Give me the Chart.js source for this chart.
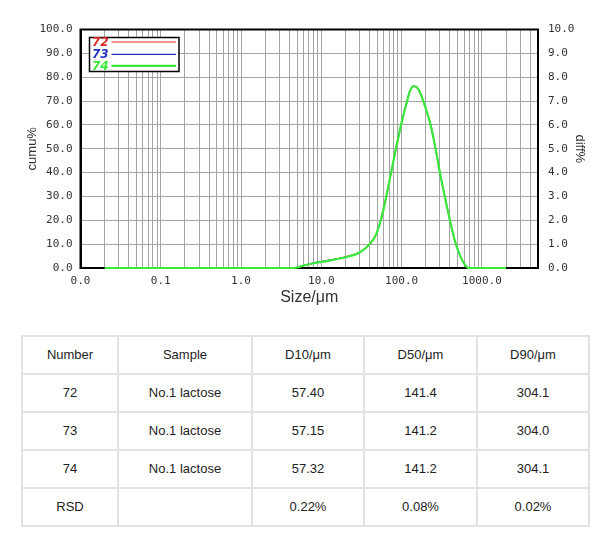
<!DOCTYPE html>
<html>
<head>
<meta charset="utf-8">
<script src="https://cdn.jsdelivr.net/npm/chart.js@4.4.1/dist/chart.umd.min.js"></script>
<style>
html,body{margin:0;padding:0;background:#fff;width:614px;height:544px;overflow:hidden;}
#wrap{position:absolute;left:0;top:0;width:614px;height:310px;}
#tbl{position:absolute;left:21px;top:334.5px;border-collapse:collapse;table-layout:fixed;
  font-family:"Liberation Sans",Arial,sans-serif;font-size:13px;color:#222;}
#tbl td{border:2px solid #e2e2e2;text-align:center;vertical-align:middle;padding:0;height:36px;}
</style>
</head>
<body>
<div id="wrap"><canvas id="c" width="614" height="310"></canvas></div>
<table id="tbl">
  <colgroup><col style="width:96px"><col style="width:134px"><col style="width:112px"><col style="width:113px"><col style="width:112px"></colgroup>
  <tbody id="tb"></tbody>
</table>
<script>
// ---- data ----
const sizes  = [0.02, 1, 4.5, 6, 8, 12, 20, 30, 40, 48, 58, 70, 85, 100, 115, 128, 142, 155, 170, 195, 230, 265, 300, 345, 400, 460, 530, 610, 680, 2000];
const diff72 = [0, 0, 0, 0.1, 0.2, 0.31, 0.47, 0.66, 1.0, 1.4, 2.3, 3.6, 5.0, 6.1, 6.9, 7.46, 7.63, 7.58, 7.35, 6.8, 6.0, 5.0, 4.0, 3.0, 2.0, 1.15, 0.55, 0.15, 0, 0];
const diff73 = [0, 0, 0, 0.11, 0.22, 0.32, 0.46, 0.64, 1.0, 1.4, 2.3, 3.6, 5.0, 6.1, 6.9, 7.45, 7.62, 7.57, 7.35, 6.8, 6.0, 5.0, 4.0, 3.0, 2.0, 1.15, 0.55, 0.15, 0, 0];
const diff74 = [0, 0, 0, 0.1, 0.2, 0.3, 0.45, 0.65, 1.0, 1.4, 2.3, 3.6, 5.0, 6.1, 6.9, 7.45, 7.62, 7.58, 7.35, 6.8, 6.0, 5.0, 4.0, 3.0, 2.0, 1.15, 0.55, 0.15, 0, 0];
const seriesLabels = ['72', '73', '74'];
const leftTicks = [0, 10, 20, 30, 40, 50, 60, 70, 80, 90, 100];
const rightTicks = [0, 1, 2, 3, 4, 5, 6, 7, 8, 9, 10];

const tblHeader = ['Number', 'Sample', 'D10/μm', 'D50/μm', 'D90/μm'];
const tblNumber = ['72', '73', '74', 'RSD'];
const tblSample = ['No.1 lactose', 'No.1 lactose', 'No.1 lactose', ''];
const tblD10 = ['57.40', '57.15', '57.32', '0.22%'];
const tblD50 = ['141.4', '141.2', '141.2', '0.08%'];
const tblD90 = ['304.1', '304.0', '304.1', '0.02%'];

// ---- table ----
(function(){
  const tb = document.getElementById('tb');
  const rows = [tblHeader];
  for (let i = 0; i < tblNumber.length; i++) rows.push([tblNumber[i], tblSample[i], tblD10[i], tblD50[i], tblD90[i]]);
  rows.forEach(r => {
    const tr = document.createElement('tr');
    r.forEach(c => { const td = document.createElement('td'); td.textContent = c; tr.appendChild(td); });
    tb.appendChild(tr);
  });
})();

// ---- chart ----
const colors = ['#e02828', '#2430c0', '#3aea3a'];
const widths = [1.2, 1.2, 2.2];
const orders = [2, 1, 0];
const allDiff = [diff72, diff73, diff74];

const datasets = seriesLabels.map((lab, i) => ({
  label: lab,
  data: sizes.map((s, j) => ({x: s, y: allDiff[i][j]})),
  borderColor: colors[i],
  backgroundColor: colors[i],
  borderWidth: widths[i],
  order: orders[i],
  pointRadius: 0,
  cubicInterpolationMode: 'monotone',
  clip: false,
  yAxisID: 'y2'
}));

const frameLegend = {
  id: 'frameLegend',
  beforeDatasetsDraw(chart) {
    const {ctx, chartArea: a} = chart;
    ctx.save();
    ctx.strokeStyle = '#000';
    ctx.lineWidth = 2;
    ctx.strokeRect(a.left, a.top, a.right - a.left, a.bottom - a.top);
    ctx.restore();
  },
  afterDatasetsDraw(chart) {
    const {ctx} = chart;
    const bx = 89.5, by = 37.5, bw = 89.5, bh = 34;
    ctx.save();
    ctx.fillStyle = '#fff';
    ctx.fillRect(bx, by, bw, bh);
    ctx.strokeStyle = '#000';
    ctx.lineWidth = 1.5;
    ctx.strokeRect(bx, by, bw, bh);
    const ys = [42, 54.3, 65.8];
    chart.data.datasets.forEach((ds, i) => {
      ctx.fillStyle = ds.borderColor;
      ctx.font = 'italic bold 12px "DejaVu Sans", sans-serif';
      ctx.textBaseline = 'middle';
      ctx.textAlign = 'left';
      ctx.fillText(ds.label, 92, ys[i] + 1);
      ctx.strokeStyle = ds.borderColor;
      ctx.lineWidth = ds.borderWidth;
      ctx.beginPath();
      ctx.moveTo(111.5, ys[i]);
      ctx.lineTo(176, ys[i]);
      ctx.stroke();
    });
    ctx.restore();
  }
};

const tickFont = {family: '"DejaVu Sans Mono", monospace', size: 11};
const gridColor = '#a4a4a4';

new Chart(document.getElementById('c'), {
  type: 'line',
  data: {datasets},
  options: {
    responsive: false,
    animation: false,
    events: [],
    layout: {padding: {top: 29.5, left: 0, right: 0, bottom: 0}},
    plugins: {legend: {display: false}, tooltip: {enabled: false}},
    scales: {
      x: {
        type: 'logarithmic',
        position: 'bottom',
        min: 0.01,
        max: 5000,
        afterBuildTicks(scale) {
          const t = [];
          for (let e = -2; e <= 3; e++) {
            for (let m = 1; m <= 9; m++) {
              const v = +(m * Math.pow(10, e)).toPrecision(6);
              if (v < 5000) t.push({value: v});
            }
          }
          scale.ticks = t;
        },
        afterFit(scale) { scale.height = 42; },
        grid: {color: gridColor, lineWidth: 1, drawTicks: false},
        border: {display: true, color: '#000', width: 2},
        ticks: {
          autoSkip: false, maxRotation: 0, minRotation: 0,
          font: tickFont, color: '#333', padding: 7,
          callback(v) {
            const l = Math.log10(v);
            return Math.abs(l - Math.round(l)) < 1e-9 ? Number(v).toFixed(1) : '';
          }
        },
        title: {display: true, text: 'Size/μm', color: '#333',
          font: {family: '"Liberation Sans", Arial, sans-serif', size: 16},
          padding: {top: 0, bottom: 2.5}}
      },
      y: {
        position: 'left',
        min: 0, max: 100,
        afterBuildTicks(scale) { scale.ticks = leftTicks.map(v => ({value: v})); },
        afterFit(scale) { scale.width = 80.5; },
        grid: {color: gridColor, lineWidth: 1, drawTicks: false},
        border: {display: true, color: '#000', width: 2},
        ticks: {font: tickFont, color: '#333', padding: 8, callback: v => Number(v).toFixed(1)},
        title: {display: true, text: 'cumu%', color: '#333',
          font: {family: '"Liberation Sans", Arial, sans-serif', size: 13},
          padding: {top: 25, bottom: 0}}
      },
      y2: {
        position: 'right',
        min: 0, max: 10,
        afterBuildTicks(scale) { scale.ticks = rightTicks.map(v => ({value: v})); },
        afterFit(scale) { scale.width = 76; },
        grid: {display: false, drawTicks: false},
        border: {display: true, color: '#000', width: 2},
        ticks: {font: tickFont, color: '#333', padding: 10, callback: v => Number(v).toFixed(1)},
        title: {display: true, text: 'diff%', color: '#333',
          font: {family: '"Liberation Sans", Arial, sans-serif', size: 13},
          padding: {top: 27, bottom: 0}}
      }
    }
  },
  plugins: [frameLegend]
});
</script>
</body>
</html>
